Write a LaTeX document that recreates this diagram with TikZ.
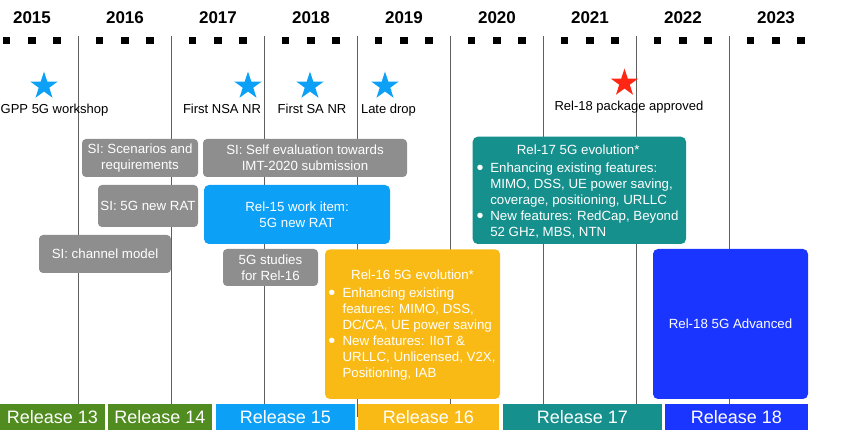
\documentclass[tikz,border=0pt]{standalone}
\usepackage{fontspec}
\setmainfont{Liberation Sans}
\usetikzlibrary{shapes.geometric}
\definecolor{boxgray}{RGB}{142,142,142}
\definecolor{rfblue}{RGB}{12,161,246}
\definecolor{ryellow}{RGB}{249,186,22}
\definecolor{rteal}{RGB}{22,144,141}
\definecolor{reblue}{RGB}{26,53,255}
\definecolor{rgreen}{RGB}{80,140,32}
\definecolor{starred}{RGB}{255,38,20}
\definecolor{gridgray}{RGB}{95,95,95}
\newcommand{\bigbul}{\makebox[4.65pt][c]{\raisebox{-2.2pt}{\scalebox{1.5}{\textbullet}}}}
\begin{document}
\begin{tikzpicture}[x=1pt,y=-1pt,
  yearlbl/.style={font=\fontsize{17}{20}\selectfont\bfseries, inner sep=0pt},
  tick/.style={fill=black, minimum size=7.5pt, inner sep=0pt},
  vline/.style={draw=gridgray, line width=0.9pt},
  evstar/.style={star, star points=5, star point ratio=2.618, minimum size=29pt, inner sep=0pt},
  evt/.style={font=\fontsize{13}{16}\selectfont, inner sep=0pt, anchor=base},
  gbox/.style={fill=boxgray, rounded corners=4pt, text=white, align=center, font=\fontsize{13.3}{16}\selectfont, inner sep=0pt},
  bigbox/.style={rounded corners=5pt, inner sep=0pt},
  bodytxt/.style={text=white, font=\fontsize{13.3}{16}\selectfont, inner sep=0pt},
  relbar/.style={text=white, font=\fontsize{18}{20}\selectfont, inner sep=0pt, minimum height=26pt}
]
\useasboundingbox (0,0) rectangle (847,438);
% grid lines
\foreach \x [count=\i] in {78.5,171.5,264.5,357.5,450.5,543.5,636.5,729.5} {
  \coordinate (gt\i) at (\x,36);
  \coordinate (gb\i) at (\x,417);
  \draw[vline] (gt\i) -- (gb\i);
}
% years and ticks
\foreach \yr [count=\i from 0] in {2015,2016,2017,2018,2019,2020,2021,2022,2023} {
  \pgfmathsetmacro{\xc}{32+93*\i}
  \node[yearlbl] (y\yr) at (\xc,18) {\yr};
  \node[tick] (ta\yr) at (\xc-25.5,40.7) {};
  \node[tick] (tb\yr) at (\xc,40.7) {};
  \node[tick] (tc\yr) at (\xc+25,40.7) {};
}
% stars
\node[evstar, fill=rfblue] (s1) at (44,86) {};
\node[evstar, fill=rfblue] (s2) at (248,86) {};
\node[evstar, fill=rfblue] (s3) at (310,86) {};
\node[evstar, fill=rfblue] (s4) at (385,86) {};
\node[evstar, fill=starred] (s5) at (624.5,83) {};
\node[evt, anchor=base west] (e1) at (0.5,114) {GPP 5G workshop};
\node[evt] (e2) at (222,114) {First NSA NR};
\node[evt] (e3) at (312,114) {First SA NR};
\node[evt] (e4) at (388.5,114) {Late drop};
\node[evt] (e5) at (629,111) {Rel-18 package approved};
% gray study items
\node[gbox, minimum width=116pt, minimum height=38pt] (scen) at (140,158) {SI: Scenarios and\\requirements};
\node[gbox, minimum width=204pt, minimum height=38pt] (selfev) at (305,158) {SI: Self evaluation towards\\IMT-2020 submission};
\node[gbox, minimum width=100pt, minimum height=42pt] (newrat) at (148,206) {SI: 5G new RAT};
\node[gbox, minimum width=132pt, minimum height=38pt] (chan) at (105,254) {SI: channel model};
\node[gbox, minimum width=95pt, minimum height=37pt] (stud) at (270.5,267.5) {5G studies\\for Rel-16};
% Rel-15 work item
\node[bigbox, fill=rfblue, text=white, align=center, font=\fontsize{13.3}{16}\selectfont, minimum width=186pt, minimum height=59pt] (wi15) at (297,214.5) {Rel-15 work item:\\5G new RAT};
% Rel-16
\node[bigbox, fill=ryellow, minimum width=175pt, minimum height=149.7pt] (b16) at (412.5,324.15) {};
\node[bodytxt, anchor=base west] (t16) at (329.4,279.8) {\begin{tabular}[t]{@{}l@{\hspace{8.3pt}}l@{}}
\multicolumn{2}{c}{Rel-16 5G evolution*}\\[2pt]
\bigbul & Enhancing existing\\
 & features: MIMO, DSS,\\
 & DC/CA, UE power saving\\
\bigbul & New features: IIoT \&\\
 & URLLC, Unlicensed, V2X,\\
 & Positioning, IAB
\end{tabular}};
% Rel-17
\node[bigbox, fill=rteal, minimum width=213.3pt, minimum height=107.3pt] (b17) at (579.35,190.35) {};
\node[bodytxt, anchor=base west] (t17) at (477.7,154.8) {\begin{tabular}[t]{@{}l@{\hspace{7.7pt}}l@{}}
\multicolumn{2}{c}{Rel-17 5G evolution*}\\[1.5pt]
\bigbul & Enhancing existing features:\\
 & MIMO, DSS, UE power saving,\\
 & coverage, positioning, URLLC\\
\bigbul & New features: RedCap, Beyond\\
 & 52 GHz, MBS, NTN
\end{tabular}};
% Rel-18
\node[bigbox, fill=reblue, text=white, font=\fontsize{13.3}{16}\selectfont, minimum width=155pt, minimum height=150pt] (b18) at (730.5,324) {Rel-18 5G Advanced};
% release bars
\node[relbar, fill=rgreen, minimum width=105pt] (r13) at (52.5,417) {Release 13};
\node[relbar, fill=rgreen, minimum width=104pt] (r14) at (160,417) {Release 14};
\node[relbar, fill=rfblue, minimum width=139pt] (r15) at (285.5,417) {Release 15};
\node[relbar, fill=ryellow, minimum width=141pt] (r16) at (428.5,417) {Release 16};
\node[relbar, fill=rteal, minimum width=159pt] (r17) at (582.5,417) {Release 17};
\node[relbar, fill=reblue, minimum width=143pt] (r18) at (736.5,417) {Release 18};
\end{tikzpicture}
\end{document}
